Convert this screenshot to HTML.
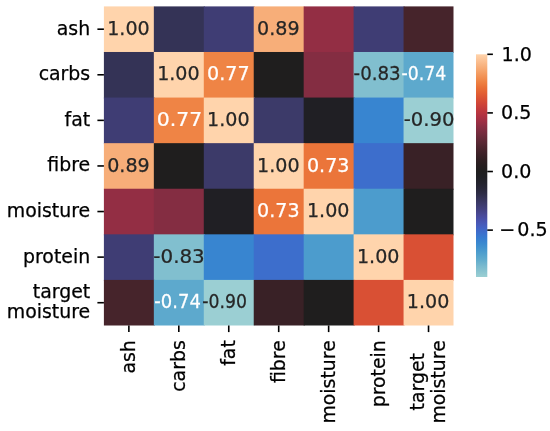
<!DOCTYPE html>
<html><head><meta charset="utf-8"><title>Correlation heatmap</title>
<style>
html,body{margin:0;padding:0;background:#fff;}
body{width:550px;height:431px;overflow:hidden;}
svg{display:block;}
text{font-family:"DejaVu Sans","Liberation Sans",sans-serif;font-size:19.1px;fill:#000;stroke:#000;stroke-width:0.25px;}
.an{text-anchor:middle;}
.yl{text-anchor:end;}
.ylab{font-size:18.9px;}
.tk{stroke:#000;stroke-width:1.6;}
</style></head><body>
<svg width="550" height="431" viewBox="0 0 550 431">
<defs><linearGradient id="cb" x1="0" y1="0" x2="0" y2="1">

<stop offset="0.0000" stop-color="#ffd4ac"/>
<stop offset="0.0250" stop-color="#fcc396"/>
<stop offset="0.0500" stop-color="#f8b380"/>
<stop offset="0.0750" stop-color="#f5a36a"/>
<stop offset="0.1000" stop-color="#f29255"/>
<stop offset="0.1250" stop-color="#ee8142"/>
<stop offset="0.1500" stop-color="#e96f36"/>
<stop offset="0.1750" stop-color="#e25f33"/>
<stop offset="0.2000" stop-color="#d95034"/>
<stop offset="0.2250" stop-color="#ce4338"/>
<stop offset="0.2500" stop-color="#c0393d"/>
<stop offset="0.2750" stop-color="#b13242"/>
<stop offset="0.3000" stop-color="#9f2f44"/>
<stop offset="0.3250" stop-color="#8a2e43"/>
<stop offset="0.3500" stop-color="#782c3f"/>
<stop offset="0.3750" stop-color="#672a39"/>
<stop offset="0.4000" stop-color="#572833"/>
<stop offset="0.4250" stop-color="#48242c"/>
<stop offset="0.4500" stop-color="#3b2127"/>
<stop offset="0.4750" stop-color="#2f1f22"/>
<stop offset="0.5000" stop-color="#261e1f"/>
<stop offset="0.5250" stop-color="#1f1e1e"/>
<stop offset="0.5500" stop-color="#1f1f23"/>
<stop offset="0.5750" stop-color="#22222b"/>
<stop offset="0.6000" stop-color="#272636"/>
<stop offset="0.6250" stop-color="#2d2c45"/>
<stop offset="0.6500" stop-color="#363459"/>
<stop offset="0.6750" stop-color="#3d3b6d"/>
<stop offset="0.7000" stop-color="#444282"/>
<stop offset="0.7250" stop-color="#494a9a"/>
<stop offset="0.7500" stop-color="#4954b0"/>
<stop offset="0.7750" stop-color="#4560c1"/>
<stop offset="0.8000" stop-color="#3d6ecc"/>
<stop offset="0.8250" stop-color="#377cd0"/>
<stop offset="0.8500" stop-color="#3a89cf"/>
<stop offset="0.8750" stop-color="#4596ce"/>
<stop offset="0.9000" stop-color="#53a2cd"/>
<stop offset="0.9250" stop-color="#63adcd"/>
<stop offset="0.9500" stop-color="#78b9ce"/>
<stop offset="0.9750" stop-color="#8ac4d0"/>
<stop offset="1.0000" stop-color="#9bcfd3"/>
</linearGradient></defs>

<g>
<rect x="103.90" y="6.40" width="50.94" height="46.59" fill="#ffd4ac"/>
<rect x="153.84" y="6.40" width="50.94" height="46.59" fill="#343356"/>
<rect x="203.79" y="6.40" width="50.94" height="46.59" fill="#3f3d74"/>
<rect x="253.73" y="6.40" width="50.94" height="46.59" fill="#f7ae79"/>
<rect x="303.67" y="6.40" width="50.94" height="46.59" fill="#932e44"/>
<rect x="353.61" y="6.40" width="50.94" height="46.59" fill="#3f3d74"/>
<rect x="403.56" y="6.40" width="49.94" height="46.59" fill="#46242b"/>
<rect x="103.90" y="51.99" width="50.94" height="46.59" fill="#343356"/>
<rect x="153.84" y="51.99" width="50.94" height="46.59" fill="#ffd4ac"/>
<rect x="203.79" y="51.99" width="50.94" height="46.59" fill="#ef8445"/>
<rect x="253.73" y="51.99" width="50.94" height="46.59" fill="#1f1e1e"/>
<rect x="303.67" y="51.99" width="50.94" height="46.59" fill="#842d42"/>
<rect x="353.61" y="51.99" width="50.94" height="46.59" fill="#81bfcf"/>
<rect x="403.56" y="51.99" width="49.94" height="46.59" fill="#5da9cd"/>
<rect x="103.90" y="97.57" width="50.94" height="46.59" fill="#3f3d74"/>
<rect x="153.84" y="97.57" width="50.94" height="46.59" fill="#ef8445"/>
<rect x="203.79" y="97.57" width="50.94" height="46.59" fill="#ffd4ac"/>
<rect x="253.73" y="97.57" width="50.94" height="46.59" fill="#3c3a69"/>
<rect x="303.67" y="97.57" width="50.94" height="46.59" fill="#201f24"/>
<rect x="353.61" y="97.57" width="50.94" height="46.59" fill="#3885d0"/>
<rect x="403.56" y="97.57" width="49.94" height="46.59" fill="#9bcfd3"/>
<rect x="103.90" y="143.16" width="50.94" height="46.59" fill="#f7ae79"/>
<rect x="153.84" y="143.16" width="50.94" height="46.59" fill="#1f1e1e"/>
<rect x="203.79" y="143.16" width="50.94" height="46.59" fill="#3c3a69"/>
<rect x="253.73" y="143.16" width="50.94" height="46.59" fill="#ffd4ac"/>
<rect x="303.67" y="143.16" width="50.94" height="46.59" fill="#eb753a"/>
<rect x="353.61" y="143.16" width="50.94" height="46.59" fill="#3d6ecc"/>
<rect x="403.56" y="143.16" width="49.94" height="46.59" fill="#392126"/>
<rect x="103.90" y="188.74" width="50.94" height="46.59" fill="#932e44"/>
<rect x="153.84" y="188.74" width="50.94" height="46.59" fill="#842d42"/>
<rect x="203.79" y="188.74" width="50.94" height="46.59" fill="#201f24"/>
<rect x="253.73" y="188.74" width="50.94" height="46.59" fill="#eb753a"/>
<rect x="303.67" y="188.74" width="50.94" height="46.59" fill="#ffd4ac"/>
<rect x="353.61" y="188.74" width="50.94" height="46.59" fill="#4c9ccd"/>
<rect x="403.56" y="188.74" width="49.94" height="46.59" fill="#1f1e1e"/>
<rect x="103.90" y="234.33" width="50.94" height="46.59" fill="#3f3d74"/>
<rect x="153.84" y="234.33" width="50.94" height="46.59" fill="#81bfcf"/>
<rect x="203.79" y="234.33" width="50.94" height="46.59" fill="#3885d0"/>
<rect x="253.73" y="234.33" width="50.94" height="46.59" fill="#3d6ecc"/>
<rect x="303.67" y="234.33" width="50.94" height="46.59" fill="#4c9ccd"/>
<rect x="353.61" y="234.33" width="50.94" height="46.59" fill="#ffd4ac"/>
<rect x="403.56" y="234.33" width="49.94" height="46.59" fill="#d95034"/>
<rect x="103.90" y="279.91" width="50.94" height="45.59" fill="#46242b"/>
<rect x="153.84" y="279.91" width="50.94" height="45.59" fill="#5da9cd"/>
<rect x="203.79" y="279.91" width="50.94" height="45.59" fill="#9bcfd3"/>
<rect x="253.73" y="279.91" width="50.94" height="45.59" fill="#392126"/>
<rect x="303.67" y="279.91" width="50.94" height="45.59" fill="#1f1e1e"/>
<rect x="353.61" y="279.91" width="50.94" height="45.59" fill="#d95034"/>
<rect x="403.56" y="279.91" width="49.94" height="45.59" fill="#ffd4ac"/>
</g>

<text class="an" x="128.47" y="34.79" style="fill:#262626;stroke:#262626">1.00</text>
<text class="an" x="278.30" y="34.79" style="fill:#262626;stroke:#262626">0.89</text>
<text class="an" x="178.41" y="80.38" style="fill:#262626;stroke:#262626">1.00</text>
<text class="an" x="228.36" y="80.38" style="fill:#ffffff;stroke:#ffffff">0.77</text>
<text transform="translate(353.58,80.38) scale(0.9545,1)" style="fill:#262626;stroke:#262626">-0.83</text>
<text transform="translate(401.52,80.38) scale(0.9047,1)" style="fill:#ffffff;stroke:#ffffff">-0.74</text>
<text transform="translate(156.86,125.96) scale(1.0692,1)" style="fill:#ffffff;stroke:#ffffff">0.77</text>
<text class="an" x="228.36" y="125.96" style="fill:#262626;stroke:#262626">1.00</text>
<text transform="translate(403.63,125.96) scale(1.0274,1)" style="fill:#262626;stroke:#262626">-0.90</text>
<text class="an" x="128.47" y="171.55" style="fill:#262626;stroke:#262626">0.89</text>
<text class="an" x="278.30" y="171.55" style="fill:#262626;stroke:#262626">1.00</text>
<text class="an" x="328.24" y="171.55" style="fill:#ffffff;stroke:#ffffff">0.73</text>
<text class="an" x="278.30" y="217.14" style="fill:#ffffff;stroke:#ffffff">0.73</text>
<text class="an" x="328.24" y="217.14" style="fill:#262626;stroke:#262626">1.00</text>
<text transform="translate(153.32,262.72) scale(1.0413,1)" style="fill:#262626;stroke:#262626">-0.83</text>
<text class="an" x="378.19" y="262.72" style="fill:#262626;stroke:#262626">1.00</text>
<text transform="translate(154.29,308.31) scale(0.9424,1)" style="fill:#ffffff;stroke:#ffffff">-0.74</text>
<text transform="translate(202.32,308.31) scale(0.9053,1)" style="fill:#262626;stroke:#262626">-0.90</text>
<text class="an" x="428.13" y="308.31" style="fill:#262626;stroke:#262626">1.00</text>


<line class="tk" x1="97.4" x2="103.9" y1="29.19" y2="29.19"/>
<text class="yl ylab" x="90.2" y="34.59">ash</text>
<line class="tk" x1="97.4" x2="103.9" y1="74.78" y2="74.78"/>
<text class="yl ylab" x="90.2" y="80.18">carbs</text>
<line class="tk" x1="97.4" x2="103.9" y1="120.36" y2="120.36"/>
<text class="yl ylab" x="90.2" y="125.76">fat</text>
<line class="tk" x1="97.4" x2="103.9" y1="165.95" y2="165.95"/>
<text class="yl ylab" x="90.2" y="171.35">fibre</text>
<line class="tk" x1="97.4" x2="103.9" y1="211.54" y2="211.54"/>
<text class="yl ylab" x="90.2" y="216.94">moisture</text>
<line class="tk" x1="97.4" x2="103.9" y1="257.12" y2="257.12"/>
<text class="yl ylab" x="90.2" y="262.52">protein</text>
<line class="tk" x1="97.4" x2="103.9" y1="302.71" y2="302.71"/>
<text class="yl ylab" x="90.2" y="297.81">target</text>
<text class="yl ylab" x="90.2" y="318.41">moisture</text>
<line class="tk" x1="128.87" x2="128.87" y1="325.5" y2="332.1"/>
<text class="yl ylab" transform="translate(128.87,340.2) rotate(-90)" x="0" y="6.0">ash</text>
<line class="tk" x1="178.81" x2="178.81" y1="325.5" y2="332.1"/>
<text class="yl ylab" transform="translate(178.81,340.2) rotate(-90)" x="0" y="6.0">carbs</text>
<line class="tk" x1="228.76" x2="228.76" y1="325.5" y2="332.1"/>
<text class="yl ylab" transform="translate(228.76,340.2) rotate(-90)" x="0" y="6.0">fat</text>
<line class="tk" x1="278.70" x2="278.70" y1="325.5" y2="332.1"/>
<text class="yl ylab" transform="translate(278.70,340.2) rotate(-90)" x="0" y="6.0">fibre</text>
<line class="tk" x1="328.64" x2="328.64" y1="325.5" y2="332.1"/>
<text class="yl ylab" transform="translate(328.64,340.2) rotate(-90)" x="0" y="6.0">moisture</text>
<line class="tk" x1="378.59" x2="378.59" y1="325.5" y2="332.1"/>
<text class="yl ylab" transform="translate(378.59,340.2) rotate(-90)" x="0" y="6.0">protein</text>
<line class="tk" x1="428.53" x2="428.53" y1="325.5" y2="332.1"/>
<text class="an ylab" transform="translate(428.53,340.2) rotate(-90)" x="-41.6" y="-4.2">target</text>
<text class="yl ylab" transform="translate(428.53,340.2) rotate(-90)" x="0" y="16.4">moisture</text>
<rect x="476.0" y="54.3" width="11.3" height="222.7" fill="url(#cb)"/>
<line class="tk" x1="487.3" x2="492.9" y1="54.30" y2="54.30"/>
<text x="531.9" y="60.90" style="text-anchor:end">1.0</text>
<line class="tk" x1="487.3" x2="492.9" y1="112.91" y2="112.91"/>
<text x="531.4" y="119.11" style="text-anchor:end">0.5</text>
<line class="tk" x1="487.3" x2="492.9" y1="171.51" y2="171.51"/>
<text x="531.4" y="177.71" style="text-anchor:end">0.0</text>
<line class="tk" x1="487.3" x2="492.9" y1="230.12" y2="230.12"/>
<text y="236.32"><tspan x="499.3">−</tspan><tspan x="517.3">0.5</tspan></text>
</svg></body></html>
